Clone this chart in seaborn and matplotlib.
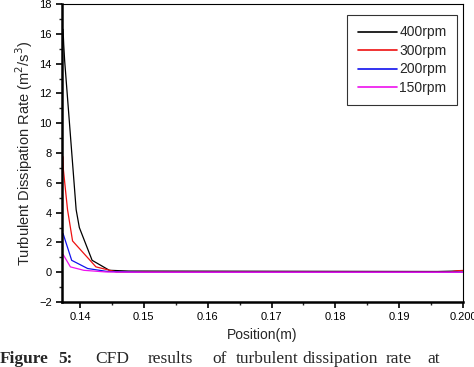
import pandas as pd
import matplotlib.pyplot as plt
import seaborn as sns
from matplotlib.ticker import MultipleLocator

# --- Turbulent dissipation rate vs position ---
x_400 = [0.13735, 0.13745, 0.1376, 0.1394, 0.1399, 0.1419, 0.1446, 0.1476, 0.1960, 0.1990, 0.2000]
y_400 = [16.3, 15.3, 14.2, 4.2, 3.0, 0.8, 0.13, 0.08, 0.05, 0.08, 0.10]

x_300 = [0.13735, 0.1374, 0.13805, 0.13884, 0.1425, 0.1457, 0.1980, 0.1990, 0.2000]
y_300 = [7.75, 6.9, 4.2, 2.1, 0.36, 0.02, 0.02, 0.10, 0.12]

x_200 = [0.13735, 0.1387, 0.1412, 0.1443, 0.1500, 0.2000]
y_200 = [2.6, 0.8, 0.25, 0.05, 0.0, 0.0]

x_150 = [0.13735, 0.1385, 0.1406, 0.1440, 0.1500, 0.2000]
y_150 = [1.2, 0.36, 0.13, 0.02, 0.0, 0.0]

labels = ["400rpm", "300rpm", "200rpm", "150rpm"]
colors = ["black", "#ee1111", "#1111ee", "#ee11ee"]

caption_words = ["Figure", "5:", "CFD", "results", "of", "turbulent", "dissipation", "rate", "at"]

frames = []
for lab, xs, ys in zip(labels, [x_400, x_300, x_200, x_150], [y_400, y_300, y_200, y_150]):
    frames.append(pd.DataFrame({"Position": xs, "Rate": ys, "Speed": lab}))
df = pd.concat(frames, ignore_index=True)

sns.set_style("ticks")
plt.rcParams["font.family"] = ["Liberation Sans", "DejaVu Sans"]

fig = plt.figure(figsize=(4.74, 3.67), dpi=100)
ax = fig.add_axes([0.131, 0.177, 0.846, 0.812])

sns.lineplot(data=df, x="Position", y="Rate", hue="Speed", hue_order=labels,
             palette=colors, linewidth=0.9, sort=False, estimator=None, ax=ax)

ax.set_xlim(0.1372, 0.2)
ax.set_ylim(-2, 18)
ax.xaxis.set_minor_locator(MultipleLocator(0.005))
ax.yaxis.set_major_locator(MultipleLocator(2))
ax.yaxis.set_minor_locator(MultipleLocator(1))
ax.set_xticks([0.14, 0.15, 0.16, 0.17, 0.18, 0.19, 0.20])
ax.set_xticklabels(["0.14", "0.15", "0.16", "0.17", "0.18", "0.19", "0.200"])
ax.tick_params(axis="both", which="major", labelsize=8, length=4, width=1.2, direction="out", colors="black")
ax.tick_params(axis="both", which="minor", length=2.5, width=1.0, direction="out")

for side in ["left", "bottom"]:
    ax.spines[side].set_linewidth(1.8)
for side in ["top", "right"]:
    ax.spines[side].set_linewidth(0.8)
    ax.spines[side].set_visible(True)
for sp in ax.spines.values():
    sp.set_color("black")

ax.set_xlabel("Position(m)", fontsize=10, labelpad=4)
ax.set_ylabel("Turbulent Dissipation Rate (m$^2$/s$^3$)", fontsize=10.5, labelpad=3)

leg = ax.legend(title=None, loc="upper right", bbox_to_anchor=(0.985, 0.963), fontsize=10,
                frameon=True, fancybox=False, edgecolor="black", handlelength=2.8,
                handletextpad=0.2, labelspacing=0.32, borderpad=0.75, borderaxespad=0)
leg.get_frame().set_linewidth(0.8)
for line in leg.get_lines():
    line.set_linewidth(1.2)

# --- justified caption, partly cut off at the bottom ---
word_x = [0, 58, 95, 148, 212, 236, 302, 386, 427]
for i, (w, px) in enumerate(zip(caption_words, word_x)):
    fig.text(px / 474, 1 - 363 / 367, w, fontsize=12.5,
             family=["Liberation Serif", "DejaVu Serif"],
             weight="bold" if i < 2 else "normal", ha="left", va="baseline")

plt.savefig("out.png", dpi=100)
plt.close()
